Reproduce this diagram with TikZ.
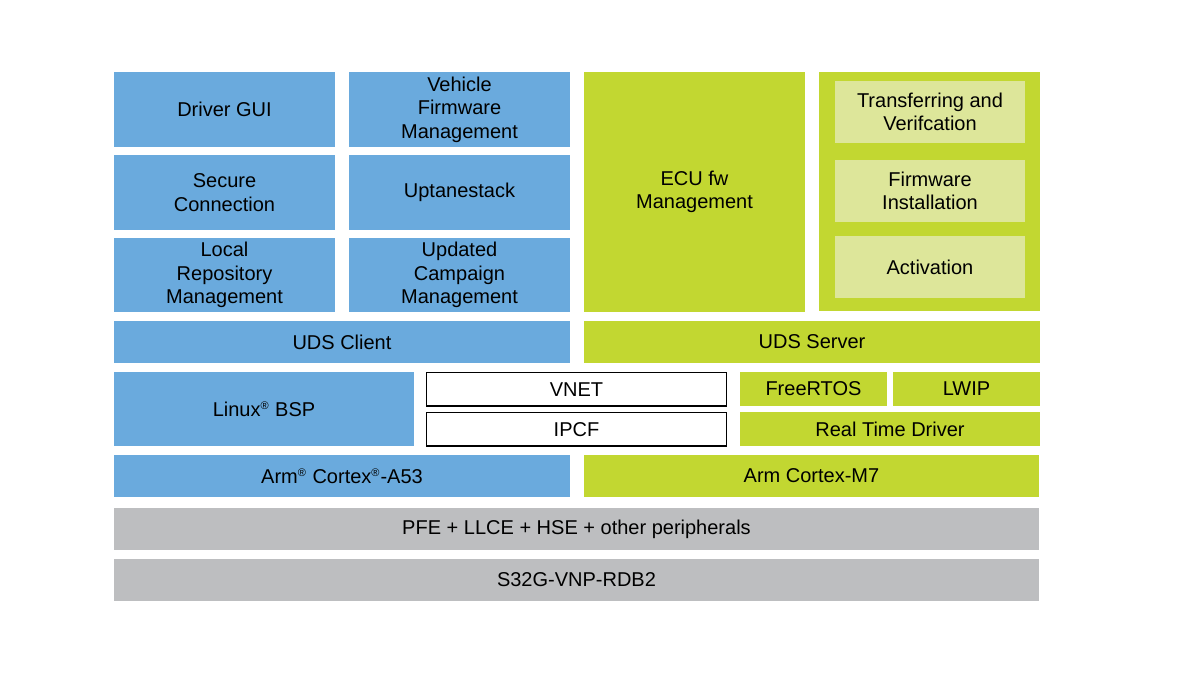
\documentclass[tikz,border=0pt]{standalone}
\usepackage{fontspec}
\setmainfont{Liberation Sans}
\definecolor{nxpblue}{HTML}{6AAADD}
\definecolor{nxpgreen}{HTML}{C2D731}
\definecolor{nxplight}{HTML}{DDE69A}
\definecolor{nxpgray}{HTML}{BDBEC0}
\newcommand\blk[7]{\node[#6, minimum width={(#4-#2)*0.5pt}, minimum height={(#5-#3)*0.5pt}] (#1) at ({(#2+#4)/2},{(#3+#5)/2}) {#7};}
\newcommand\regmark{\textsuperscript{\fontsize{5.5}{6}\selectfont ®}}
\begin{document}
\begin{tikzpicture}[x=0.5pt,y=-0.5pt,
  base/.style={rectangle, inner sep=0pt, outer sep=0pt, align=center, font=\fontsize{10}{11.8}\selectfont, text=black},
  bluebox/.style={base, fill=nxpblue},
  greenbox/.style={base, fill=nxpgreen},
  lightbox/.style={base, fill=nxplight},
  graybox/.style={base, fill=nxpgray},
  whitebox/.style={base, fill=white, draw=black, line width=0.75pt}]
\fill[white] (0,0) rectangle (1200,675);
\useasboundingbox (0,0) rectangle (1200,675);
% blue application blocks
\blk{gui}{114}{72}{335}{147}{bluebox}{Driver GUI}
\blk{vfm}{349}{72}{570}{147}{bluebox}{Vehicle\\Firmware\\Management}
\blk{sec}{114}{155}{335}{230}{bluebox}{Secure\\Connection}
\blk{upt}{349}{155}{570}{230}{bluebox}{Uptanestack}
\blk{lrm}{114}{238}{335}{312}{bluebox}{Local\\Repository\\Management}
\blk{ucm}{349}{238}{570}{312}{bluebox}{Updated\\Campaign\\Management}
% green application blocks
\blk{ecu}{584}{72}{805}{312}{greenbox}{ECU fw\\Management}
\blk{grp}{819}{72}{1040}{311}{greenbox}{}
\blk{trf}{835}{81}{1025}{143}{lightbox}{Transferring and\\Verifcation}
\blk{fwi}{835}{160}{1025}{222}{lightbox}{Firmware\\Installation}
\blk{act}{835}{236}{1025}{298}{lightbox}{Activation}
% UDS
\blk{udsc}{114}{321}{570}{363}{bluebox}{UDS Client}
\blk{udss}{584}{321}{1040}{363}{greenbox}{UDS Server}
% OS layer
\blk{bsp}{114}{372}{414}{446}{bluebox}{Linux\regmark{} BSP}
\blk{vnet}{426.5}{372.5}{726.5}{406}{whitebox}{VNET}
\blk{ipcf}{426.5}{412.5}{726.5}{446}{whitebox}{IPCF}
\blk{rtos}{740}{372}{887}{406}{greenbox}{FreeRTOS}
\blk{lwip}{893}{372}{1040}{406}{greenbox}{LWIP}
\blk{rtd}{740}{412}{1040}{446}{greenbox}{Real Time Driver}
% cores
\blk{a53}{114}{455}{570}{497}{bluebox}{Arm\regmark{} Cortex\regmark{}-A53}
\blk{m7}{584}{455}{1039}{497}{greenbox}{Arm Cortex-M7}
% hardware
\blk{pfe}{114}{508}{1039}{550}{graybox}{PFE + LLCE + HSE + other peripherals}
\blk{brd}{114}{559}{1039}{601}{graybox}{S32G-VNP-RDB2}
\end{tikzpicture}
\end{document}
